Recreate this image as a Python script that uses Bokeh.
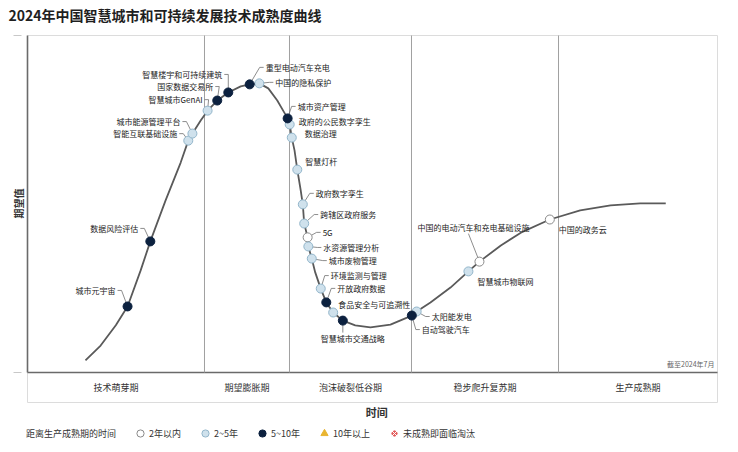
import math
from bokeh.plotting import figure
from bokeh.models import Range1d, Legend, LegendItem, ColumnDataSource
from bokeh.core.properties import value
from bokeh.embed import file_html
from bokeh.resources import INLINE

FONT = "Noto Sans CJK SC"

# ---------------- data ----------------
curve_x = [8.4, 10.6, 12.8, 14.5, 16.4, 17.8, 20.0, 22.2, 23.3, 23.9, 25.1, 26.1, 27.5, 29.1,
           30.9, 32.2, 33.6, 34.9, 36.2, 37.2, 37.7, 38.0, 38.3, 38.7, 39.1, 39.6, 39.9, 40.1,
           40.6, 40.7, 41.2, 41.7, 42.5, 43.3, 44.3, 45.7, 47.5, 49.7, 52.6, 55.7, 56.4, 58.4,
           61.3, 63.9, 65.5, 68.6, 71.5, 75.7, 80.1, 84.5, 88.8, 92.5]
curve_y = [3.6, 8.0, 14.0, 19.6, 30.3, 38.9, 51.0, 62.3, 68.8, 70.9, 74.8, 77.7, 80.7, 83.1,
           84.9, 85.5, 85.8, 84.3, 80.7, 77.2, 75.4, 73.6, 69.7, 65.9, 60.2, 54.0, 49.9, 44.2,
           40.1, 37.4, 33.8, 29.7, 24.9, 20.8, 17.8, 15.4, 14.0, 13.4, 14.2, 16.9, 18.1, 20.8,
           25.2, 30.0, 32.9, 37.7, 41.5, 45.4, 48.1, 49.6, 50.2, 50.2]

tech_names = ["城市元宇宙", "数据风险评估", "智能互联基础设施", "城市能源管理平台", "智慧城市GenAI",
              "国家数据交易所", "智慧楼宇和可持续建筑", "重型电动汽车充电", "中国的隐私保护",
              "城市资产管理", "政府的公民数字孪生", "数据治理", "智慧灯杆", "政府数字孪生",
              "跨辖区政府服务", "5G", "水资源管理分析", "城市废物管理", "环境监测与管理",
              "开放政府数据", "食品安全与可追溯性", "智慧城市交通战略", "自动驾驶汽车", "太阳能发电",
              "智慧城市物联网", "中国的电动汽车和充电基础设施", "中国的政务云"]
tech_x = [14.5, 17.8, 23.3, 23.9, 26.1, 27.5, 29.1, 32.2, 33.6, 37.7, 38.0, 38.3, 39.1, 39.9,
          40.1, 40.6, 40.7, 41.2, 42.5, 43.3, 44.3, 45.7, 55.7, 56.4, 63.9, 65.5, 75.7]
tech_y = [19.6, 38.9, 68.8, 70.9, 77.7, 80.7, 83.1, 85.5, 85.8, 75.4, 73.6, 69.7, 60.2, 49.9,
          44.2, 40.1, 37.4, 33.8, 24.9, 20.8, 17.8, 15.4, 16.9, 18.1, 30.0, 32.9, 45.4]
tech_years = ["5~10年", "5~10年", "2~5年", "2~5年", "2~5年", "5~10年", "5~10年", "5~10年", "2~5年",
              "5~10年", "2~5年", "2~5年", "2~5年", "2~5年", "2~5年", "2年以内", "2~5年", "2~5年",
              "2~5年", "5~10年", "2~5年", "5~10年", "5~10年", "2~5年", "2~5年", "2年以内", "2年以内"]

phase_names = ["技术萌芽期", "期望膨胀期", "泡沫破裂低谷期", "稳步爬升复苏期", "生产成熟期"]
phase_bounds = [0, 25.65, 37.97, 55.65, 76.96, 100]

legend_labels = ["2年以内", "2~5年", "5~10年", "10年以上", "未成熟即面临淘汰"]

title_text = "2024年中国智慧城市和可持续发展技术成熟度曲线"
x_title = "时间"
y_title = "期望值"
legend_title = "距离生产成熟期的时间"
note_text = "截至2024年7月"

# ---------------- layout / styles ----------------
W, H = 738, 452
PLOT_L, PLOT_R, PLOT_T, AXIS_Y, BAND_B = 27, 717, 35, 372, 402   # pixel layout
PX_X = (PLOT_R - PLOT_L) / 100.0
PX_Y = (AXIS_Y - PLOT_T) / 100.0
XS = -PLOT_L / PX_X
XE = XS + W / PX_X
YT = 100 + PLOT_T / PX_Y
YB = YT - H / PX_Y


def fx(px):
    return XS + px / PX_X


def fy(py):
    return YT - py / PX_Y


BAND = fy(BAND_B)

# label offset from marker in screen px (dx right, dy down), align, leader kind
LABEL_LAYOUT = {
    "城市元宇宙": (-12, -16, "right", "elbow"),
    "数据风险评估": (-12, -13, "right", "elbow"),
    "智能互联基础设施": (-11, -7, "right", "elbow"),
    "城市能源管理平台": (-12, -12, "right", "elbow"),
    "智慧城市GenAI": (-5, -11, "right", "elbow"),
    "国家数据交易所": (-4, -14, "right", "elbow"),
    "智慧楼宇和可持续建筑": (-6, -18, "right", "elbow"),
    "重型电动汽车充电": (16, -17, "left", "elbow"),
    "中国的隐私保护": (16, -1, "left", "elbow"),
    "城市资产管理": (10, -12, "left", "elbow"),
    "政府的公民数字孪生": (9, -3, "left", "none"),
    "数据治理": (13, -4, "left", "none"),
    "智慧灯杆": (8, -8, "left", "none"),
    "政府数字孪生": (13, -11, "left", "elbow"),
    "跨辖区政府服务": (16, -9, "left", "elbow"),
    "5G": (15, -5, "left", "elbow"),
    "水资源管理分析": (15, 1, "left", "elbow"),
    "城市废物管理": (17, 2, "left", "elbow"),
    "环境监测与管理": (10, -13, "left", "elbow"),
    "开放政府数据": (11, -14, "left", "elbow"),
    "食品安全与可追溯性": (5, -8, "left", "none"),
    "智慧城市交通战略": (10, 18, "center", ("line", -10, -6)),
    "自动驾驶汽车": (10, 14, "left", "elbow"),
    "太阳能发电": (15, 5, "left", "elbow"),
    "智慧城市物联网": (9, 10, "left", "none"),
    "中国的电动汽车和充电基础设施": (-6, -34, "center", ("line", -5, 6)),
    "中国的政务云": (9, 10, "left", "none"),
}

MARKER_STYLE = {
    "2年以内": dict(marker="circle", fill_color="white", line_color="#8a8a8a"),
    "2~5年": dict(marker="circle", fill_color="#cfe1ec", line_color="#93b6cb"),
    "5~10年": dict(marker="circle", fill_color="#0c213f", line_color="#0c213f"),
    "10年以上": dict(marker="triangle", fill_color="#e9b531", line_color="#e9b531"),
    "未成熟即面临淘汰": dict(marker="circle_x", fill_color="#e35d5d", line_color="white"),
}

p = figure(width=W, height=H, output_backend="svg", toolbar_location=None, title=None,
           x_range=Range1d(XS, XE), y_range=Range1d(YB, YT), min_border=0)
p.background_fill_color = "white"
p.border_fill_color = "white"
p.outline_line_color = None
p.grid.visible = False
p.xaxis.visible = False
p.yaxis.visible = False

# frame lines (light)
light = "#dcdcdc"
p.segment(x0=[0, 100, 0, 0], y0=[100, BAND, BAND, BAND], x1=[100, 100, 100, 0], y1=[100, 100, BAND, 0],
          line_color=light, line_width=1)
# axis lines (dark)
p.segment(x0=[0, 0], y0=[0, 0], x1=[100, 0], y1=[0, 100], line_color="#6a6a6a", line_width=1.6)
# y tick dashes
p.segment(x0=[fx(13), fx(13)], y0=[0, 100], x1=[fx(21), fx(21)], y1=[0, 100],
          line_color="#c8c8c8", line_width=1)
# phase dividers
inner = phase_bounds[1:-1]
p.segment(x0=inner, y0=[0] * len(inner), x1=inner, y1=[100] * len(inner),
          line_color="#a0a0a0", line_width=1)

# phase labels
centers = [(a + b) / 2 for a, b in zip(phase_bounds[:-1], phase_bounds[1:])]
p.text(x=centers, y=[BAND / 2] * len(centers), text=phase_names, text_font=value(FONT),
       text_font_size="9px", text_color="#333333", text_align="center", text_baseline="middle")
p.text(x=[100], y=[fy(363)], text=[note_text], x_offset=-3, text_font=value(FONT),
       text_font_size="7px", text_color="#666666", text_align="right", text_baseline="middle")

# titles
p.text(x=[fx(8)], y=[fy(14)], text=[title_text], text_font=value(FONT), text_font_size="14px",
       text_font_style="bold", text_color="#1f1f1f", text_align="left", text_baseline="middle")
p.text(x=[50.6], y=[fy(411)], text=[x_title], text_font=value(FONT), text_font_size="11px",
       text_font_style="bold", text_color="#333333", text_align="center", text_baseline="middle")
p.text(x=[fx(18)], y=[fy(203)], text=[y_title], angle=math.pi / 2, text_font=value(FONT),
       text_font_size="10px", text_font_style="bold", text_color="#333333",
       text_align="center", text_baseline="middle")

# curve
p.line(curve_x, curve_y, line_color="#5a5a5a", line_width=1.8)

# labels + leaders
lx, ly, la, ltxt = [], [], [], []
lead_xs, lead_ys = [], []
for n, x, y in zip(tech_names, tech_x, tech_y):
    dx, dy, align, kind = LABEL_LAYOUT[n]
    tx = x + dx / PX_X
    ty = y - dy / PX_Y
    lx.append(tx); ly.append(ty); la.append(align); ltxt.append(n)
    if kind == "elbow":
        s = 1 if align == "right" else -1
        pts = [(tx + s * 2 / PX_X, ty), (tx + s * 6 / PX_X, ty), (x, y)]
    elif isinstance(kind, tuple):
        pts = [(tx + kind[1] / PX_X, ty - kind[2] / PX_Y), (x, y)]
    else:
        continue
    lead_xs.append([q[0] for q in pts]); lead_ys.append([q[1] for q in pts])

p.multi_line(xs=lead_xs, ys=lead_ys, line_color="#707070", line_width=0.8)
lsrc = ColumnDataSource(dict(x=lx, y=ly, t=ltxt, a=la))
p.text(x="x", y="y", text="t", text_align="a", source=lsrc, text_font=value(FONT),
       text_font_size="8px", text_color="#222222", text_baseline="middle")

# markers per maturity class (classes with no technology get an empty NaN series)
renderers = {}
for lab in legend_labels:
    xs = [x for x, c in zip(tech_x, tech_years) if c == lab]
    ys = [y for y, c in zip(tech_y, tech_years) if c == lab]
    if not xs:
        xs, ys = [float("nan")], [float("nan")]
    st = MARKER_STYLE[lab]
    renderers[lab] = p.scatter(x=xs, y=ys, size=9, line_width=1, **st)

blank = p.scatter(x=[float("nan")], y=[float("nan")], size=0, fill_alpha=0, line_alpha=0)
items = [LegendItem(label=legend_title, renderers=[blank])]
items += [LegendItem(label=lab, renderers=[renderers[lab]]) for lab in legend_labels]
legend = Legend(items=items, orientation="horizontal", location=(8, 10),
                label_text_font=FONT, label_text_font_size="9px", label_text_color="#333333",
                glyph_width=18, glyph_height=18, label_standoff=0, spacing=15,
                padding=0, margin=0, border_line_color=None, background_fill_alpha=0)
p.add_layout(legend)

open("out.html", "w").write(file_html(p, INLINE))
